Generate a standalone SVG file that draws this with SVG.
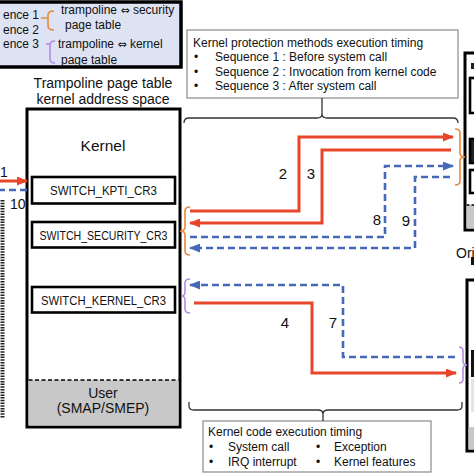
<svg xmlns="http://www.w3.org/2000/svg" width="474" height="474" viewBox="0 0 474 474">
<defs>
<marker id="ar" markerUnits="userSpaceOnUse" markerWidth="11" markerHeight="9" refX="10" refY="4.5" orient="auto"><path d="M0,0 L11,4.5 L0,9 z" fill="#e8462a"/></marker>
<marker id="ab" markerUnits="userSpaceOnUse" markerWidth="11" markerHeight="9" refX="10" refY="4.5" orient="auto"><path d="M0,0 L11,4.5 L0,9 z" fill="#4668b8"/></marker>
<style>
text{font-family:"Liberation Sans",Arial,sans-serif;fill:#111}
.sym{font-family:"DejaVu Sans",sans-serif;font-size:11px}
.red{fill:none;stroke:#e8462a;stroke-width:3}
.blue{fill:none;stroke:#4668b8;stroke-width:2.6;stroke-dasharray:7 4}
.or{fill:none;stroke:#e8893a;stroke-width:1.6}
.pu{fill:none;stroke:#b48be3;stroke-width:1.6}
.br{fill:none;stroke:#333;stroke-width:1.3}
.note{fill:#fff;stroke:#8a8a8a;stroke-width:1.2}
.sw{fill:#fff;stroke:#000;stroke-width:2.6}
.num{font-size:15px}
.t12{font-size:12px}
</style>
</defs>
<rect width="474" height="474" fill="#fff"/>

<g id="legend">
<rect x="-6" y="2" width="187" height="65" fill="#dde3f3" stroke="#000" stroke-width="3.5"/>
<text class="t12" x="3" y="19">ence 1</text>
<text class="t12" x="3" y="34">ence 2</text>
<text class="t12" x="3" y="48">ence 3</text>
<path class="or" d="M54,11 Q48,11 48,15 L48,26 Q48,30 54,30 M48,18 L41,18"/>
<path class="pu" d="M55,41 Q50,41 50,45 L50,59 Q50,63 55,63 M50,44 L46,44"/>
<text class="t12" x="61" y="14">trampoline <tspan class="sym">⇔</tspan> security</text>
<text class="t12" x="65" y="29">page table</text>
<text class="t12" x="58" y="48">trampoline <tspan class="sym">⇔</tspan> kernel</text>
<text class="t12" x="61" y="64">page table</text>
</g>

<g id="note-top">
<rect class="note" x="187" y="30" width="271" height="68"/>
<text class="t12" x="193" y="47">Kernel protection methods execution timing</text>
<text class="t12" x="194" y="61">•</text><text class="t12" x="215" y="61">Sequence 1 : Before system call</text>
<text class="t12" x="194" y="76">•</text><text class="t12" x="215" y="76">Sequence 2 : Invocation from kernel code</text>
<text class="t12" x="194" y="90">•</text><text class="t12" x="215" y="90">Sequence 3 : After system call</text>
</g>

<g id="kernel-space">
<text x="103" y="88" font-size="14" text-anchor="middle">Trampoline page table</text>
<text x="103" y="103.5" font-size="14" text-anchor="middle">kernel address space</text>
<rect x="27" y="109" width="153" height="318" fill="#fff" stroke="#000" stroke-width="3"/>
<rect x="28.5" y="380" width="150" height="45.5" fill="#c8c8c8"/>
<line x1="28.5" y1="380" x2="178.5" y2="380" stroke="#000" stroke-width="1.5" stroke-dasharray="4 2.5"/>
<text x="103" y="151" font-size="15.5" text-anchor="middle">Kernel</text>
<text x="103" y="398" font-size="14" text-anchor="middle">User</text>
<text x="103" y="413" font-size="14" text-anchor="middle">(SMAP/SMEP)</text>
</g>

<g id="switch-kpti">
<rect class="sw" x="32" y="177" width="143" height="26.5"/>
<text x="103.5" y="195" font-size="12.5" text-anchor="middle" textLength="107" lengthAdjust="spacingAndGlyphs">SWITCH_KPTI_CR3</text>
</g>
<g id="switch-security">
<rect class="sw" x="32" y="222" width="143" height="25.5"/>
<text x="103.5" y="239.5" font-size="12.5" text-anchor="middle" textLength="128" lengthAdjust="spacingAndGlyphs">SWITCH_SECURITY_CR3</text>
</g>
<g id="switch-kernel">
<rect class="sw" x="32" y="287" width="143" height="25.5"/>
<text x="103.5" y="304.5" font-size="12.5" text-anchor="middle" textLength="125" lengthAdjust="spacingAndGlyphs">SWITCH_KERNEL_CR3</text>
</g>

<g id="left-edge">
<line x1="2.5" y1="200" x2="2.5" y2="418" stroke="#222" stroke-width="4" stroke-dasharray="1.5 1.2"/>
</g>

<g id="note-bottom">
<rect class="note" x="203" y="421" width="228" height="51"/>
<text class="t12" x="208" y="436">Kernel code execution timing</text>
<text class="t12" x="209" y="451">•</text><text class="t12" x="228" y="451">System call</text>
<text class="t12" x="316" y="451">•</text><text class="t12" x="334" y="451">Exception</text>
<text class="t12" x="209" y="466">•</text><text class="t12" x="228" y="466">IRQ interrupt</text>
<text class="t12" x="316" y="466">•</text><text class="t12" x="334" y="466">Kernel features</text>
</g>

<g id="right-top">
<path d="M474,53 L465,53 L465,230 L474,230" fill="none" stroke="#000" stroke-width="3"/>
<rect x="471" y="63" width="6" height="6" fill="#222"/>
<rect x="470" y="78" width="10" height="35" fill="#fff" stroke="#000" stroke-width="2.6"/>
<rect x="470" y="139" width="10" height="24" fill="#222" stroke="#000" stroke-width="2.6"/>
<rect x="470" y="170" width="10" height="23" fill="#fff" stroke="#000" stroke-width="2.6"/>
<rect x="466.5" y="205" width="8" height="23.5" fill="#c8c8c8"/>
<line x1="466.5" y1="205" x2="474" y2="205" stroke="#000" stroke-width="1.5" stroke-dasharray="3 2"/>
</g>

<g id="right-bottom">
<text x="456" y="258" font-size="14">Ori</text>
<rect x="471" y="257" width="5" height="8" fill="#111"/>
<path d="M474,280 L467,280 L467,451 L474,451" fill="none" stroke="#000" stroke-width="3"/>
<rect x="471" y="350" width="6" height="27" fill="#111"/>
<rect x="471" y="379" width="5" height="33" fill="#e4e4e4"/>
<rect x="468.5" y="427" width="6" height="22.5" fill="#c8c8c8"/>
</g>

<g id="connectors">
<line x1="0" y1="181" x2="27" y2="181" class="red" marker-end="url(#ar)"/>
<line x1="27" y1="190" x2="0" y2="190" class="blue"/>
<text x="0" y="177" font-size="14">1</text>
<text x="10" y="209" font-size="14">10</text>

<polyline class="red" points="190,211 299,211 299,137 453,137" marker-end="url(#ar)"/>
<polyline class="red" points="451,150 322,150 322,223 190,223" marker-end="url(#ar)"/>
<polyline class="blue" points="190,237 385,237 385,166 453,166" marker-end="url(#ab)"/>
<polyline class="blue" points="450,177 415,177 415,248 190,248" marker-end="url(#ab)"/>
<polyline class="blue" points="455,357 343,357 343,285 190,285" marker-end="url(#ab)"/>
<polyline class="red" points="194,303 312,303 312,373 456,373" marker-end="url(#ar)"/>

<text class="num" x="283" y="179" text-anchor="middle">2</text>
<text class="num" x="311" y="179" text-anchor="middle">3</text>
<text class="num" x="377" y="225" text-anchor="middle">8</text>
<text class="num" x="406" y="226" text-anchor="middle">9</text>
<text class="num" x="285" y="328" text-anchor="middle">4</text>
<text class="num" x="333" y="328" text-anchor="middle">7</text>

<path class="or" d="M190,207 Q185,207 185,211 L185,227 Q185,231 180,231 Q185,231 185,235 L185,251 Q185,255 190,255"/>
<path class="or" d="M455,129 Q460,129 460,133 L460,153 Q460,157 465,157 Q460,157 460,161 L460,181 Q460,185 455,185"/>
<path class="pu" d="M190,279 Q185,279 185,283 L185,292 Q185,296 181,296 Q185,296 185,300 L185,309 Q185,313 190,313"/>
<path class="pu" d="M459,347 Q463,347 463,351 L463,361 Q463,365 467,365 Q463,365 463,369 L463,379 Q463,383 459,383"/>

<path class="br" d="M322,98 L322,114 Q322,118 317,118 L189,118 Q184,118 184,123 M322,114 Q322,118 327,118 L453,118 Q458,118 458,123"/>
<path class="br" d="M189,402 L189,406 Q189,410 194,410 L318,410 Q323,410 323,414 L323,421 M323,414 Q323,410 328,410 L457,410 Q462,410 462,406 L462,402"/>
</g>
</svg>
